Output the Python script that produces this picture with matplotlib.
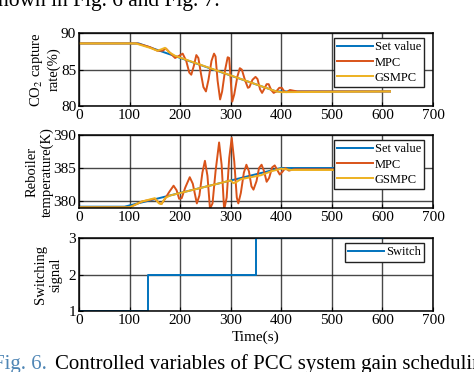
import numpy as np
import matplotlib
matplotlib.use('Agg')
import matplotlib.pyplot as plt

plt.rcParams['font.family'] = ['Liberation Serif', 'DejaVu Serif']
plt.rcParams['mathtext.fontset'] = 'stix'

# --- CO2 capture rate (%) ---
t_set1 = [0, 118, 390, 615]
y_set1 = [88.6, 88.6, 82.0, 82.0]

t_gs1 = [0, 112, 140, 155, 163, 170, 178, 190, 390, 400, 615]
y_gs1 = [88.6, 88.6, 88.0, 87.6, 87.8, 88.0, 87.4, 86.9, 82.0, 81.9, 82.0]

t_mpc1 = [0, 115, 140, 155, 165, 172, 180, 190, 198, 205, 212, 218, 222, 227, 232, 236,
          241, 246, 251, 256, 262, 267, 270, 274, 279, 283, 289, 294, 297, 300, 303, 307,
          313, 318, 322, 328, 334, 337, 343, 349, 353, 358, 362, 366, 371, 375, 380, 385,
          390, 396, 401, 406, 411, 417, 424, 432, 615]
y_mpc1 = [88.6, 88.6, 88.1, 87.6, 87.6, 87.9, 87.3, 86.6, 86.9, 87.2, 86.2, 84.6, 84.3, 85.5, 87.0, 86.6,
          84.5, 82.6, 82.0, 83.6, 86.2, 87.2, 86.8, 83.5, 80.9, 82.0, 85.0, 86.7, 86.6, 83.5, 80.6, 81.6,
          84.0, 85.2, 85.0, 83.6, 82.5, 82.6, 83.6, 84.0, 83.7, 82.3, 81.8, 82.3, 83.0, 83.0, 82.2, 81.8,
          82.0, 82.5, 82.5, 82.0, 81.9, 82.2, 82.1, 82.0, 82.0]

# --- Reboiler temperature (K) ---
t_set2 = [0, 90, 400, 615]
y_set2 = [379.1, 379.1, 385.0, 385.0]

t_gs2 = [0, 100, 125, 140, 150, 158, 163, 170, 180, 300, 305, 310, 320, 360, 380, 400, 420, 615]
y_gs2 = [379.0, 379.0, 379.9, 380.2, 380.4, 379.6, 379.5, 380.4, 380.8, 383.1, 382.7, 382.8, 383.3,
         383.9, 384.5, 384.9, 384.7, 384.7]

t_mpc2 = [0, 100, 125, 150, 158, 163, 170, 178, 187, 193, 198, 203, 210, 219, 225, 233, 238, 244,
          249, 254, 259, 264, 270, 277, 282, 287, 292, 297, 302, 307, 312, 315, 320, 326, 331, 336,
          341, 345, 351, 356, 361, 366, 371, 376, 382, 387, 392, 397, 402, 408, 415, 425, 615]
y_mpc2 = [379.0, 379.0, 379.9, 380.3, 379.7, 379.5, 380.3, 381.3, 382.3, 381.6, 380.3, 380.4, 382.0,
          383.6, 382.6, 379.6, 380.8, 384.3, 386.1, 383.8, 378.8, 379.6, 384.5, 388.9, 385.5, 378.6,
          380.5, 386.5, 389.6, 386.0, 380.5, 379.6, 381.2, 384.3, 385.5, 384.5, 382.2, 381.7, 383.0,
          385.0, 385.5, 384.5, 382.9, 383.5, 385.1, 385.4, 384.7, 384.0, 384.4, 385.0, 384.6, 384.8, 384.8]

# --- Switching signal ---
t_sw = [0, 136, 136, 349, 349, 602]
y_sw = [1, 1, 2, 2, 3, 3]

blue = '#0072BD'
red = '#D95319'
yellow = '#EDB120'

fig = plt.figure(figsize=(4.74, 3.72), dpi=100)
left, width, height = 0.1667, 0.7468, 0.1955
ax1 = fig.add_axes([left, 0.7151, width, height])
ax2 = fig.add_axes([left, 0.4409, width, height])
ax3 = fig.add_axes([left, 0.1640, width, height])

for ax in (ax1, ax2, ax3):
    ax.set_xlim(0, 700)
    ax.set_xticks(range(0, 701, 100))
    ax.grid(True, color='#1a1a1a', lw=1.0, alpha=0.8)
    ax.tick_params(direction='in', labelsize=11, length=3, pad=2)
    for s in ax.spines.values():
        s.set_linewidth(1.1)

ax1.plot(t_set1, y_set1, color=blue, lw=1.4, label='Set value')
ax1.plot(t_mpc1, y_mpc1, color=red, lw=1.4, label='MPC')
ax1.plot(t_gs1, y_gs1, color=yellow, lw=1.4, label='GSMPC')
ax1.set_ylim(80, 90)
ax1.set_yticks([80, 85, 90])
ax1.set_ylabel('CO$_2$ capture\nrate(%)', fontsize=10.5)
ax1.yaxis.set_label_coords(-0.053, 0.5)

ax2.plot(t_set2, y_set2, color=blue, lw=1.4, label='Set value')
ax2.plot(t_mpc2, y_mpc2, color=red, lw=1.4, label='MPC')
ax2.plot(t_gs2, y_gs2, color=yellow, lw=1.4, label='GSMPC')
ax2.set_ylim(378.9, 390)
ax2.set_yticks([380, 385, 390])
ax2.set_ylabel('Reboiler\ntemperature(K)', fontsize=10.5)
ax2.yaxis.set_label_coords(-0.07, 0.5)

ax3.plot(t_sw, y_sw, color=blue, lw=1.4, label='Switch')
ax3.set_ylim(1, 3)
ax3.set_yticks([1, 2, 3])
ax3.set_ylabel('Switching\nsignal', fontsize=10.5)
ax3.yaxis.set_label_coords(-0.047, 0.5)
ax3.set_xlabel('Time(s)', fontsize=11, labelpad=3)

for ax in (ax1, ax2, ax3):
    leg = ax.legend(loc='upper right', fontsize=9, handlelength=2.9, borderpad=0.25,
                    labelspacing=0.25, handletextpad=0.15, fancybox=False,
                    bbox_to_anchor=(0.975, 0.93), borderaxespad=0)
    leg.get_frame().set_edgecolor('#222222')
    leg.get_frame().set_linewidth(1.0)
    leg.get_frame().set_alpha(1)

# surrounding page text
fig.text(-0.004, 0.984, 'hown in Fig. 6 and Fig. 7.', fontsize=15.5, va='baseline', ha='left')
fig.text(-0.015, 0.008, 'Fig. 6.', fontsize=15, va='baseline', ha='left', color='#4f86b5')
fig.text(0.116, 0.008, 'Controlled variables of PCC system gain scheduling', fontsize=15,
         va='baseline', ha='left')

fig.savefig('out.png', dpi=100)
